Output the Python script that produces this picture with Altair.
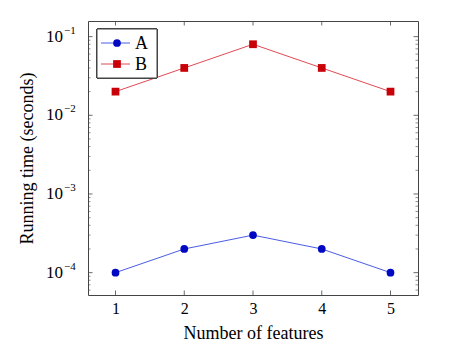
import altair as alt
import pandas as pd

features = [1, 2, 3, 4, 5]
series_a = [1e-4, 2e-4, 3e-4, 2e-4, 1e-4]
series_b = [0.02, 0.04, 0.08, 0.04, 0.02]
series_names = ["A", "B"]
x_ticks = [1, 2, 3, 4, 5]
y_major = [1e-4, 1e-3, 1e-2, 1e-1]
y_exps = ["−4", "−3", "−2", "−1"]

W, H = 330, 274
FONT = "Liberation Serif"
BLUE_M, BLUE_L = "#0008c4", "#4a5ce6"
RED_M, RED_L = "#c80008", "#e04a55"
FRAME = "#444444"

df = pd.DataFrame({
    "features": features * 2,
    "time": series_a + series_b,
    "series": [series_names[0]] * len(features) + [series_names[1]] * len(features),
})
minor = [m * 10.0 ** k for k in range(-5, 0) for m in range(2, 10)]
minor = [v for v in minor if 5.2e-5 <= v <= 0.158]
df_minor = pd.DataFrame({"v": minor})
df_major = pd.DataFrame({"v": y_major, "exp": y_exps})
df_x = pd.DataFrame({"x": x_ticks})

xs = alt.Scale(domain=[0.6, 5.4], nice=False, zero=False)
ys = alt.Scale(type="log", domain=[5.2e-5, 0.158], nice=False)
cs = alt.Scale(domain=series_names, range=[BLUE_L, RED_L])
cm = alt.Scale(domain=series_names, range=[BLUE_M, RED_M])
ss = alt.Scale(domain=series_names, range=["circle", "square"])

base = alt.Chart(df)
xaxis = alt.Axis(title="Number of features", values=x_ticks, format="d", ticks=False,
                 domain=False, grid=False, labelPadding=5, labelFontSize=16,
                 labelFont=FONT, labelColor="black", titleFont=FONT, titleFontSize=18,
                 titleFontWeight="normal", titleColor="black", titlePadding=8)
yaxis = alt.Axis(title="Running time (seconds)", labels=False, ticks=False, domain=False,
                 grid=False, titleFont=FONT, titleFontSize=18, titleFontWeight="normal",
                 titleColor="black", titlePadding=52)

lines = base.mark_line(strokeWidth=1).encode(
    x=alt.X("features:Q", scale=xs, axis=xaxis),
    y=alt.Y("time:Q", scale=ys, axis=yaxis),
    stroke=alt.Stroke("series:N", scale=cs, legend=None),
    detail="series:N",
)
points = base.mark_point(filled=True, opacity=1, size=60, strokeWidth=0).encode(
    x=alt.X("features:Q", scale=xs),
    y=alt.Y("time:Q", scale=ys),
    fill=alt.Fill("series:N", scale=cm, legend=None),
    shape=alt.Shape("series:N", scale=ss, legend=None),
)

# inside ticks
ytick_l = alt.Chart(df_major).mark_rule(color=FRAME, strokeWidth=0.8).encode(
    y=alt.Y("v:Q", scale=ys), x=alt.value(0), x2=alt.value(4.5))
ytick_r = alt.Chart(df_major).mark_rule(color=FRAME, strokeWidth=0.8).encode(
    y=alt.Y("v:Q", scale=ys), x=alt.value(W - 4.5), x2=alt.value(W))
ymin_l = alt.Chart(df_minor).mark_rule(color=FRAME, strokeWidth=0.6).encode(
    y=alt.Y("v:Q", scale=ys), x=alt.value(0), x2=alt.value(2.5))
ymin_r = alt.Chart(df_minor).mark_rule(color=FRAME, strokeWidth=0.6).encode(
    y=alt.Y("v:Q", scale=ys), x=alt.value(W - 2.5), x2=alt.value(W))
xtick_b = alt.Chart(df_x).mark_rule(color=FRAME, strokeWidth=0.8).encode(
    x=alt.X("x:Q", scale=xs), y=alt.value(H - 4.5), y2=alt.value(H))
xtick_t = alt.Chart(df_x).mark_rule(color=FRAME, strokeWidth=0.8).encode(
    x=alt.X("x:Q", scale=xs), y=alt.value(0), y2=alt.value(4.5))

# y tick labels 10^k
ylab_base = alt.Chart(df_major).mark_text(font=FONT, fontSize=17, align="right",
                                          baseline="middle", color="black").encode(
    y=alt.Y("v:Q", scale=ys), x=alt.value(-25), text=alt.value("10"))
ylab_exp = alt.Chart(df_major).mark_text(font=FONT, fontSize=11, align="left",
                                         baseline="middle", dy=-6, color="black").encode(
    y=alt.Y("v:Q", scale=ys), x=alt.value(-24), text="exp:N")

# legend
leg_box = alt.Chart(df).mark_rect(fill="white", stroke=FRAME, strokeWidth=1).encode(
    x=alt.value(9), x2=alt.value(69), y=alt.value(8), y2=alt.value(57))
leg = []
for i, (name, lc, mc, shp) in enumerate(zip(series_names, [BLUE_L, RED_L], [BLUE_M, RED_M],
                                             ["circle", "square"])):
    yy = 22 + i * 21
    one = alt.Chart(pd.DataFrame({"name": [name]}))
    leg.append(one.mark_rule(color=lc, strokeWidth=1).encode(
        x=alt.value(13), x2=alt.value(42), y=alt.value(yy)))
    leg.append(one.mark_point(filled=True, opacity=1, size=60, strokeWidth=0, shape=shp,
                              color=mc).encode(
        x=alt.value(29), y=alt.value(yy)))
    leg.append(one.mark_text(font=FONT, fontSize=18, align="left", baseline="middle",
                             color="black").encode(
        x=alt.value(47), y=alt.value(yy + 1), text="name:N"))

chart = alt.layer(
    lines, points, ytick_l, ytick_r, ymin_l, ymin_r, xtick_b, xtick_t,
    ylab_base, ylab_exp, leg_box, *leg
).properties(
    width=W, height=H,
    autosize=alt.AutoSizeParams(type="none"),
    padding={"left": 88, "top": 21, "right": 56, "bottom": 58},
).configure_view(
    stroke=FRAME, strokeWidth=1
)

chart.save("out.html", embed_options={"renderer": "svg", "actions": False})
